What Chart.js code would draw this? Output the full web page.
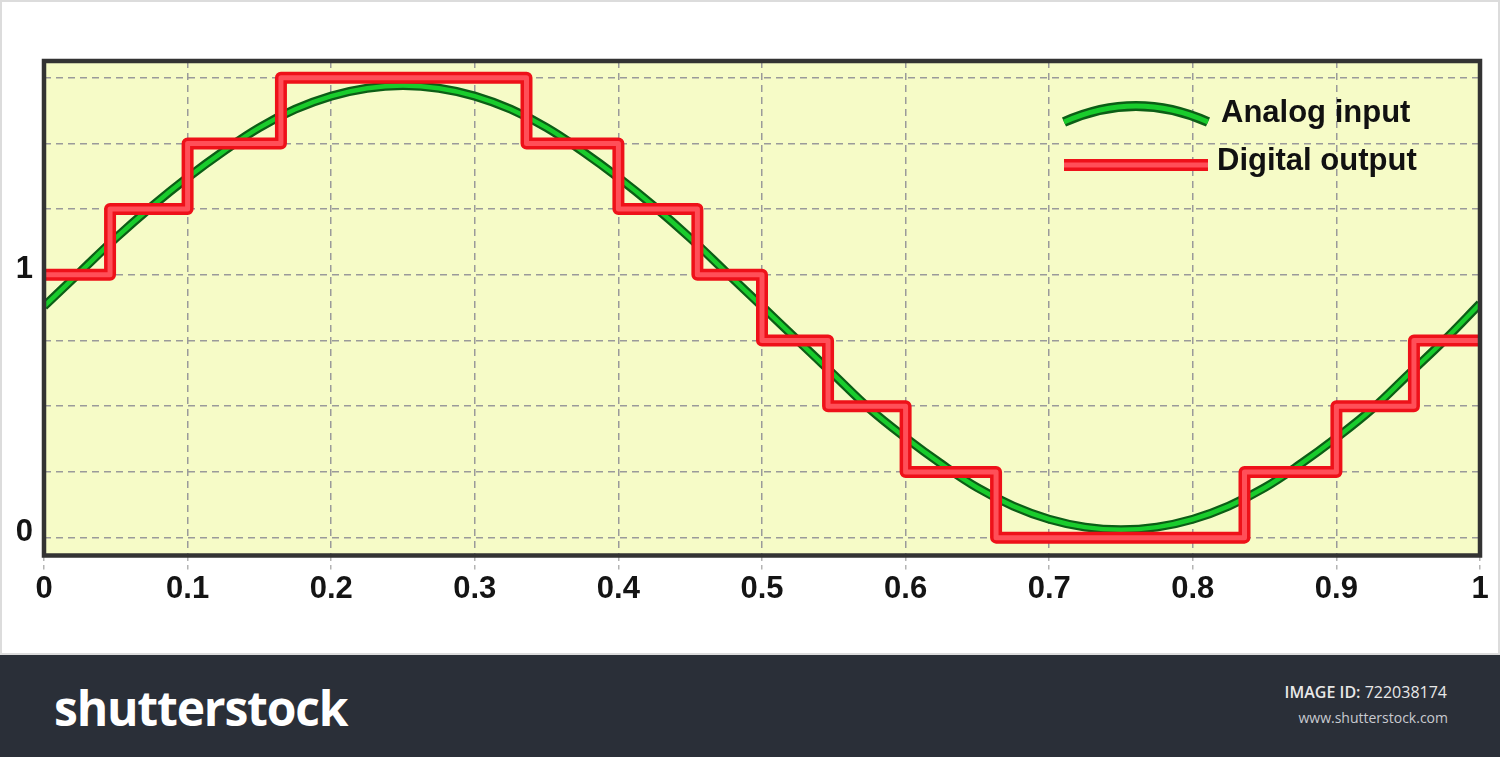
<!DOCTYPE html>
<html>
<head>
<meta charset="utf-8">
<script src="https://cdn.jsdelivr.net/npm/chart.js@4/dist/chart.umd.min.js"></script>
<style>
  html, body { margin: 0; padding: 0; background: #fff; }
  #wrap { position: relative; width: 1500px; height: 655px; }
  #frame { position: absolute; left: 0; top: 0; width: 1496px; height: 651px; border: 2px solid #dcdcdc; pointer-events: none; }
  #footer { position: relative; width: 1500px; height: 102px; background: #2a2f38; color: #fff; font-family: 'Open Sans', sans-serif; }
  #logo { position: absolute; left: 54px; top: 20px; font-size: 48px; font-weight: 700; letter-spacing: -1.2px; }
  #imgid { position: absolute; right: 53px; top: 26px; font-size: 16px; color: #e8e8e8; }
  #imgid b { font-weight: 600; }
  #site { position: absolute; right: 52px; top: 53px; font-size: 14px; color: #c8cad0; }
</style>
</head>
<body>
<div id="wrap">
  <canvas id="adcChart"></canvas>
  <div id="frame"></div>
</div>
<div id="footer">
  <div id="logo">shutterstock</div>
  <div id="imgid"><b>IMAGE ID:</b> 722038174</div>
  <div id="site">www.shutterstock.com</div>
</div>
<script>
// analog input
const analogX = [0, 0.025, 0.05, 0.075, 0.1, 0.125, 0.15, 0.175, 0.2, 0.225, 0.25,
    0.275, 0.3, 0.325, 0.35, 0.375, 0.4, 0.425, 0.45, 0.475, 0.5,
    0.525, 0.55, 0.575, 0.6, 0.625, 0.65, 0.675, 0.7, 0.725, 0.75,
    0.775, 0.8, 0.825, 0.85, 0.875, 0.9, 0.925, 0.95, 0.975, 1];
const analogY = [0.88, 1.01, 1.14, 1.26, 1.37, 1.47, 1.56, 1.63, 1.68, 1.71, 1.72,
    1.71, 1.68, 1.63, 1.56, 1.47, 1.37, 1.26, 1.14, 1.01, 0.88,
    0.75, 0.62, 0.49, 0.38, 0.28, 0.19, 0.12, 0.07, 0.04, 0.03,
    0.04, 0.07, 0.12, 0.19, 0.28, 0.38, 0.49, 0.62, 0.75, 0.89];

// digital output: level holds from each x until the next one
const digitalX = [0, 0.046, 0.1, 0.165, 0.336, 0.4, 0.455, 0.5, 0.546, 0.6, 0.663, 0.836, 0.9, 0.954, 1];
const digitalY = [1, 1.25, 1.5, 1.75, 1.5, 1.25, 1, 0.75, 0.5, 0.25, 0, 0.25, 0.5, 0.75, 0.75];

const xTicks = [0, 0.1, 0.2, 0.3, 0.4, 0.5, 0.6, 0.7, 0.8, 0.9, 1];
const xTickLabels = ['0', '0.1', '0.2', '0.3', '0.4', '0.5', '0.6', '0.7', '0.8', '0.9', '1'];
const yTicks = [0, 0.25, 0.5, 0.75, 1, 1.25, 1.5, 1.75];
const yTickLabels = ['0', '', '', '', '1', '', '', ''];

const seriesNames = ['Analog input', 'Digital output'];

const analogPts = analogX.map((x, i) => ({ x, y: analogY[i] }));
const digitalPts = digitalX.map((x, i) => ({ x, y: digitalY[i] }));

const FONT = "'Liberation Sans', Arial, sans-serif";

const plotFrame = {
    id: 'plotFrame',
    beforeDraw(chart) {
        const { ctx, chartArea: a } = chart;
        ctx.save();
        ctx.fillStyle = '#f6fbc7';
        ctx.fillRect(a.left, a.top, a.right - a.left, a.bottom - a.top);
        ctx.restore();
    },
    afterDatasetsDraw(chart) {
        const { ctx, chartArea: a } = chart;
        ctx.save();
        ctx.strokeStyle = '#333';
        ctx.lineWidth = 4.5;
        ctx.strokeRect(a.left, a.top, a.right - a.left, a.bottom - a.top);

        // legend inside the plot, top right
        ctx.lineCap = 'butt';
        ctx.beginPath();
        ctx.moveTo(1064, 122);
        ctx.quadraticCurveTo(1136, 90, 1208, 122);
        ctx.strokeStyle = '#0c5e16';
        ctx.lineWidth = 10;
        ctx.stroke();
        ctx.strokeStyle = '#19cc2c';
        ctx.lineWidth = 5;
        ctx.stroke();

        ctx.beginPath();
        ctx.moveTo(1064, 165);
        ctx.lineTo(1208, 165);
        ctx.strokeStyle = '#ee1119';
        ctx.lineWidth = 12;
        ctx.stroke();
        ctx.strokeStyle = '#ff4f58';
        ctx.lineWidth = 5;
        ctx.stroke();

        ctx.fillStyle = '#111';
        ctx.font = 'bold 31px ' + FONT;
        ctx.textBaseline = 'alphabetic';
        ctx.fillText(seriesNames[0], 1221, 122);
        ctx.fillText(seriesNames[1], 1217, 170);
        ctx.restore();
    }
};

const grid = {
    color: '#9a9a9a',
    lineWidth: 1.5,
};
const border = { display: false, dash: [7, 5] };

new Chart(document.getElementById('adcChart'), {
    type: 'line',
    data: {
        datasets: [
            { label: seriesNames[1], data: digitalPts, stepped: 'before', borderColor: '#ff4f58', borderWidth: 5, pointRadius: 0, borderJoinStyle: 'round', order: 0 },
            { label: seriesNames[1], data: digitalPts, stepped: 'before', borderColor: '#ee1119', borderWidth: 12, pointRadius: 0, borderJoinStyle: 'round', order: 1 },
            { label: seriesNames[0], data: analogPts, tension: 0.4, borderColor: '#19cc2c', borderWidth: 4.5, pointRadius: 0, order: 2 },
            { label: seriesNames[0], data: analogPts, tension: 0.4, borderColor: '#0c5e16', borderWidth: 9, pointRadius: 0, order: 3 },
        ]
    },
    options: {
        responsive: true,
        maintainAspectRatio: false,
        devicePixelRatio: 1,
        animation: false,
        layout: { padding: { top: 61, right: 20, left: 0, bottom: 0 } },
        plugins: {
            legend: { display: false },
            tooltip: { enabled: false },
        },
        scales: {
            x: {
                type: 'linear',
                min: 0,
                max: 1,
                afterBuildTicks: s => { s.ticks = xTicks.map(v => ({ value: v })); },
                afterFit: s => { s.height = 99.5; },
                grid: { ...grid, tickLength: 14, tickBorderDash: [5, 4], tickColor: '#b4b4b4' },
                border,
                ticks: {
                    autoSkip: false,
                    maxRotation: 0,
                    padding: 1,
                    color: '#141414',
                    font: { family: FONT, size: 31, weight: 'bold' },
                    callback: (v, i) => xTickLabels[i],
                },
            },
            y: {
                min: -0.068,
                max: 1.8135,
                afterBuildTicks: s => { s.ticks = yTicks.map(v => ({ value: v })); },
                afterFit: s => { s.width = 44; },
                grid: { ...grid, drawTicks: false },
                border,
                ticks: {
                    autoSkip: false,
                    padding: 11,
                    labelOffset: -5,
                    color: '#141414',
                    font: { family: FONT, size: 31, weight: 'bold' },
                    callback: (v, i) => yTickLabels[i],
                },
            },
        },
    },
    plugins: [plotFrame],
});
</script>
</body>
</html>
